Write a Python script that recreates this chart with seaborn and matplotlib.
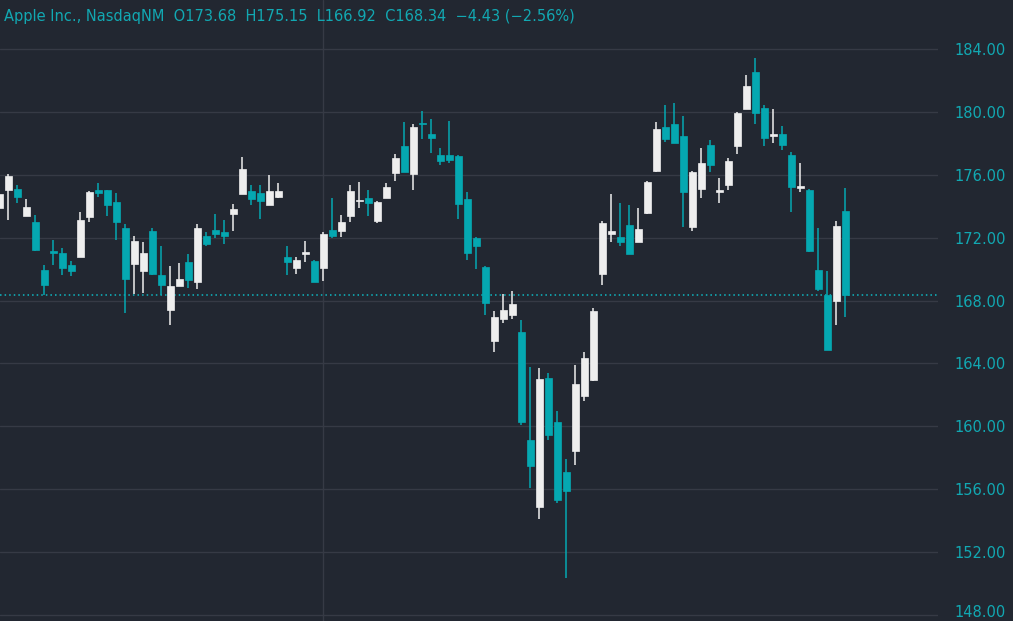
import numpy as np
import pandas as pd
import seaborn as sns
import matplotlib
matplotlib.use("Agg")
import matplotlib.pyplot as plt
from matplotlib.transforms import ScaledTranslation

opens = [173.9,175.0,175.1,173.4,173.0,169.95,171.15,171.0,170.25,170.75,
         173.3,175.0,175.0,174.25,172.6,170.35,169.9,172.45,169.6,167.4,
         168.95,170.45,169.15,172.1,172.5,172.35,173.5,174.8,174.95,174.85,
         174.1,174.6,170.75,170.05,170.95,170.5,170.1,172.5,172.45,173.35,
         174.3,174.5,173.05,174.5,176.1,177.85,176.05,179.3,178.6,177.25,
         177.25,177.2,174.45,172.0,170.15,165.45,166.8,167.1,166.0,159.1,
         154.85,163.05,160.3,157.1,158.45,161.9,162.95,169.7,172.25,172.05,
         172.8,171.75,173.55,176.25,179.05,179.25,178.45,172.7,175.1,177.9,
         174.9,175.35,177.85,180.2,182.55,180.25,178.45,178.6,177.25,175.15,
         175.05,169.95,168.35,168.0,173.68]
closes = [174.8,175.9,174.6,173.95,171.2,169.0,171.05,170.05,169.9,173.1,
          174.9,174.85,174.05,173.0,169.4,171.8,171.0,169.7,169.0,168.95,
          169.4,169.3,172.6,171.6,172.2,172.1,173.8,176.35,174.45,174.3,
          174.95,174.95,170.45,170.6,171.05,169.15,172.25,172.1,173.0,174.95,
          174.4,174.2,174.25,175.2,177.05,176.15,179.05,179.2,178.35,176.9,
          176.95,174.15,171.05,171.45,167.85,166.95,167.4,167.8,160.3,157.45,
          163.0,159.45,155.3,155.9,162.7,164.35,167.35,172.95,172.45,171.75,
          170.95,172.55,175.55,178.9,178.3,178.05,174.9,176.2,176.75,176.6,
          175.0,176.9,179.95,181.65,179.9,178.35,178.55,177.9,175.25,175.25,
          171.15,168.75,164.85,172.75,168.34]
highs = [175.0,176.05,175.35,174.45,173.45,170.25,171.85,171.35,170.5,173.6,
         174.95,175.5,175.0,174.85,172.85,172.1,171.7,172.6,171.45,170.2,
         170.4,170.95,172.85,172.35,173.5,173.1,174.15,177.15,175.35,175.35,
         176.0,175.45,171.45,170.75,171.8,170.55,172.35,174.55,173.45,175.35,
         175.55,175.05,174.3,175.45,177.3,179.35,179.25,180.05,179.55,177.7,
         179.4,177.25,174.9,172.05,170.2,167.35,168.4,168.6,166.75,163.8,
         163.7,163.4,161.0,157.9,163.9,164.7,167.5,173.05,174.8,174.2,
         174.05,173.9,175.6,179.35,180.45,180.55,179.75,176.25,177.7,178.2,
         175.8,177.05,180.0,182.35,183.45,180.45,180.2,179.1,177.45,176.75,
         175.1,172.6,169.9,173.05,175.15]
lows = [173.5,173.1,174.2,173.4,171.15,168.35,170.25,169.6,169.55,170.75,
        173.0,174.6,173.35,171.85,167.2,168.4,168.5,169.6,168.35,166.45,
        168.9,168.8,168.75,171.45,172.0,171.6,172.45,174.8,174.1,173.2,
        174.1,174.5,169.65,169.7,170.45,169.15,169.25,172.0,172.05,173.0,
        173.9,173.4,172.95,174.5,175.6,176.15,175.05,178.25,177.4,176.6,
        176.75,173.2,170.55,170.0,167.1,164.7,166.55,166.8,160.1,156.05,
        154.1,159.1,155.1,150.35,157.55,161.6,162.9,169.0,171.75,171.45,
        170.95,171.7,173.5,176.2,178.1,178.0,172.65,172.45,174.5,176.15,
        174.2,175.05,177.35,180.2,179.2,177.8,178.05,177.6,173.65,174.9,
        171.1,168.6,164.85,166.45,166.92]
yticks = [148, 152, 156, 160, 164, 168, 172, 176, 180, 184]
title = "Apple Inc., NasdaqNM  O173.68  H175.15  L166.92  C168.34  \u22124.43 (\u22122.56%)"

BG = "#222731"
GRID = "#363a45"
UP = "#eeeeee"
DOWN = "#05a8b1"
TXT = "#12a8b2"

sns.set_style("dark", {"axes.facecolor": BG, "figure.facecolor": BG})
plt.rcParams['font.family'] = ['DejaVu Sans']

df = pd.DataFrame({"o": opens, "h": highs, "l": lows, "c": closes})
df["i"] = np.arange(len(df))
df["up"] = df["c"] >= df["o"]
df["bot"] = df[["o", "c"]].min(axis=1)
df["ht"] = (df["c"] - df["o"]).abs().clip(lower=0.12)

fig = plt.figure(figsize=(10.13, 6.21), dpi=100)
ax = fig.add_axes([0, 0, 938 / 1013, 1])
ax.set_facecolor(BG)
for t in yticks:
    ax.axhline(t, color=GRID, lw=1, zorder=0)
ax.axvline(36, color=GRID, lw=1, zorder=0)

colors = [UP if u else DOWN for u in df["up"]]
ax.vlines(df["i"], df["l"], df["h"], colors=colors, lw=1.1, zorder=2)
ax.bar(df["i"], df["ht"], bottom=df["bot"], width=0.78, color=colors,
       edgecolor=colors, lw=0.5, zorder=3)
ax.axhline(closes[-1], color="#0fb8c2", lw=1.1, ls=(0, (1, 2)), zorder=1)

x0 = 0.7 / 9
ax.set_xlim(x0, x0 + 938 / 9)
ax.set_ylim(184 - 572 / 15.72, 184 + 49 / 15.72)
ax.set_xticks([])
ax.yaxis.tick_right()
ax.set_yticks(yticks)
ax.set_yticklabels([f"{t:.2f}" for t in yticks], color=TXT, fontsize=10.5)
ax.tick_params(axis="y", length=0, pad=12)
lbl = ax.get_yticklabels()[0]
lbl.set_transform(lbl.get_transform() + ScaledTranslation(0, 4 / 100, fig.dpi_scale_trans))
for s in ax.spines.values():
    s.set_visible(False)

fig.text(4 / 1013, 1 - 17 / 621, title, color=TXT, fontsize=10.5, va="center", ha="left")
fig.savefig("out.png", dpi=100, facecolor=BG)
